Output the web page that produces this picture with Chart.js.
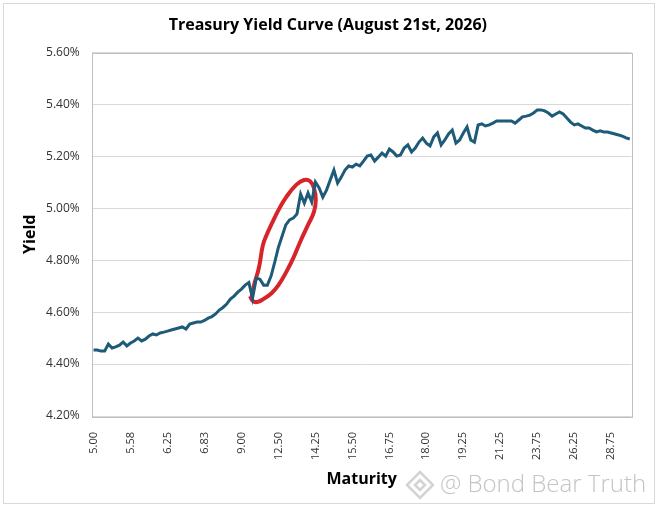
<!DOCTYPE html>
<html>
<head>
<meta charset="utf-8">
<script src="https://cdn.jsdelivr.net/npm/chart.js@4.4.1/dist/chart.umd.min.js"></script>
<style>
  html, body { margin: 0; padding: 0; background: #fff; }
  #wrap { position: relative; width: 659px; height: 509px; }
  #frame { position: absolute; left: 3px; top: 3px; width: 650px; height: 499px; border: 1px solid #d9d9d9; pointer-events: none; }
</style>
</head>
<body>
<div id="wrap">
  <canvas id="yieldChart"></canvas>
  <div id="frame"></div>
</div>
<script>
// maturity labels shown on the axis (every 10th point)
const tickLabels = ["5.00", "5.58", "6.25", "6.83", "9.00", "12.50", "14.25", "15.50",
  "16.75", "18.00", "19.25", "21.25", "23.75", "26.25", "28.75"];

// yield (%) per maturity point
const yields = [
  4.454, 4.454, 4.450, 4.450, 4.477, 4.462, 4.466, 4.473, 4.485, 4.470,
  4.481, 4.489, 4.500, 4.489, 4.496, 4.508, 4.516, 4.512, 4.520, 4.523,
  4.527, 4.531, 4.535, 4.539, 4.543, 4.535, 4.554, 4.558, 4.562, 4.562,
  4.568, 4.577, 4.583, 4.593, 4.608, 4.618, 4.631, 4.650, 4.662, 4.677,
  4.689, 4.704, 4.714, 4.654, 4.731, 4.727, 4.704, 4.704, 4.739, 4.793,
  4.850, 4.893, 4.936, 4.955, 4.962, 4.978, 5.055, 5.020, 5.059, 5.024,
  5.101, 5.078, 5.043, 5.070, 5.109, 5.147, 5.097, 5.120, 5.147, 5.163,
  5.159, 5.170, 5.163, 5.182, 5.201, 5.205, 5.182, 5.197, 5.213, 5.201,
  5.228, 5.217, 5.201, 5.205, 5.232, 5.244, 5.217, 5.232, 5.255, 5.270,
  5.251, 5.240, 5.275, 5.290, 5.244, 5.263, 5.286, 5.301, 5.251, 5.263,
  5.290, 5.313, 5.263, 5.255, 5.321, 5.325, 5.317, 5.321, 5.328, 5.336,
  5.336, 5.336, 5.336, 5.336, 5.328, 5.340, 5.352, 5.355, 5.359, 5.367,
  5.379, 5.379, 5.375, 5.367, 5.355, 5.363, 5.371, 5.363, 5.348, 5.332,
  5.321, 5.325, 5.317, 5.309, 5.309, 5.301, 5.294, 5.298, 5.294, 5.294,
  5.290, 5.286, 5.282, 5.278, 5.271, 5.267
];

// hand drawn red loop around the jump (point index, yield)
const loopIdx = [42.6, 43.4, 44.7, 45.8, 46.8, 48.4, 50.0, 52.1, 54.8, 56.9, 58.5, 59.6,
  60.1, 59.6, 58.0, 56.1, 54.0, 52.1, 50.0, 48.2, 46.0, 44.2, 43.1, 42.3];
const loopYield = [4.647, 4.704, 4.770, 4.858, 4.897, 4.947, 4.993, 5.043, 5.090, 5.109, 5.105, 5.078,
  5.032, 4.986, 4.936, 4.878, 4.808, 4.754, 4.704, 4.674, 4.651, 4.639, 4.643, 4.662];

const labels = yields.map((v, i) => (i % 10 === 0 && tickLabels[i / 10]) ? tickLabels[i / 10] : "");
const loopPoints = loopIdx.map((x, i) => ({ x: x, y: loopYield[i] }));

const plotFrame = {
  id: "plotFrame",
  afterDraw(chart) {
    const { ctx, chartArea } = chart;
    ctx.save();
    ctx.strokeStyle = "#bfbfbf";
    ctx.lineWidth = 1;
    ctx.strokeRect(Math.round(chartArea.left) + 0.5, Math.round(chartArea.top) + 0.5,
      Math.round(chartArea.right - chartArea.left), Math.round(chartArea.bottom - chartArea.top));
    ctx.restore();
  }
};

const watermark = {
  id: "watermark",
  afterDraw(chart) {
    const ctx = chart.ctx;
    ctx.save();
    ctx.strokeStyle = "#d4d4d4";
    ctx.lineWidth = 2.5;
    // small diamond logo
    const cx = 420, cy = 485;
    ctx.beginPath();
    ctx.moveTo(cx, cy - 13); ctx.lineTo(cx + 13, cy); ctx.lineTo(cx, cy + 13); ctx.lineTo(cx - 13, cy); ctx.closePath();
    ctx.stroke();
    ctx.beginPath();
    ctx.moveTo(cx, cy - 5); ctx.lineTo(cx + 5, cy); ctx.lineTo(cx, cy + 5); ctx.lineTo(cx - 5, cy); ctx.closePath();
    ctx.stroke();
    ctx.fillStyle = "#c4c4c4";
    ctx.font = '300 24px "Open Sans"';
    ctx.textBaseline = "alphabetic";
    ctx.fillText("@ Bond Bear Truth", 440, 492);
    ctx.restore();
  }
};

const ctx = document.getElementById("yieldChart").getContext("2d");
const yieldChart = new Chart(ctx, {
  type: "line",
  data: {
    labels: labels,
    datasets: [
      {
        label: "Loop",
        data: loopPoints,
        xAxisID: "xLoop",
        borderColor: "#d7242a",
        borderWidth: 4,
        pointRadius: 0,
        tension: 0.45,
        fill: false,
        order: 2
      },
      {
        label: "Yield",
        data: yields,
        borderColor: "#1d5b79",
        borderWidth: 3,
        pointRadius: 0,
        tension: 0,
        fill: false,
        order: 1
      }
    ]
  },
  options: {
    responsive: true,
    maintainAspectRatio: false,
    animation: false,
    devicePixelRatio: 1,
    layout: { padding: { left: 14, right: 17.3, top: 0, bottom: 0 } },
    plugins: {
      legend: { display: false },
      tooltip: { enabled: false },
      title: {
        display: true,
        text: "Treasury Yield Curve (August 21st, 2026)",
        color: "#000",
        font: { family: "Open Sans", size: 16, weight: "bold", lineHeight: 1.2 },
        padding: { top: 16, bottom: 17.3 }
      }
    },
    scales: {
      x: {
        type: "category",
        offset: true,
        grid: { display: false, drawTicks: false },
        border: { display: false },
        ticks: {
          autoSkip: false,
          minRotation: 90,
          maxRotation: 90,
          padding: 16,
          color: "#333",
          font: { family: "Open Sans", size: 11 }
        },
        title: {
          display: true,
          text: "Maturity",
          color: "#000",
          font: { family: "Open Sans", size: 16, weight: "bold", lineHeight: 1.2 },
          padding: { top: 0, bottom: 20 }
        },
        afterFit(scale) { scale.height = 93; }
      },
      xLoop: {
        type: "linear",
        display: false,
        min: -0.5,
        max: yields.length - 0.5
      },
      y: {
        min: 4.2,
        max: 5.6,
        grid: { color: "#d9d9d9", drawTicks: false },
        border: { display: false },
        ticks: {
          stepSize: 0.2,
          padding: 12,
          color: "#333",
          font: { family: "Open Sans", size: 12 },
          callback: (v) => v.toFixed(2) + "%"
        },
        title: {
          display: true,
          text: "Yield",
          color: "#000",
          font: { family: "Open Sans", size: 16, weight: "bold", lineHeight: 1.2 },
          padding: { top: 7, bottom: 0 }
        },
        afterFit(scale) { scale.width = 77.7; }
      }
    }
  },
  plugins: [plotFrame, watermark]
});
</script>
</body>
</html>
